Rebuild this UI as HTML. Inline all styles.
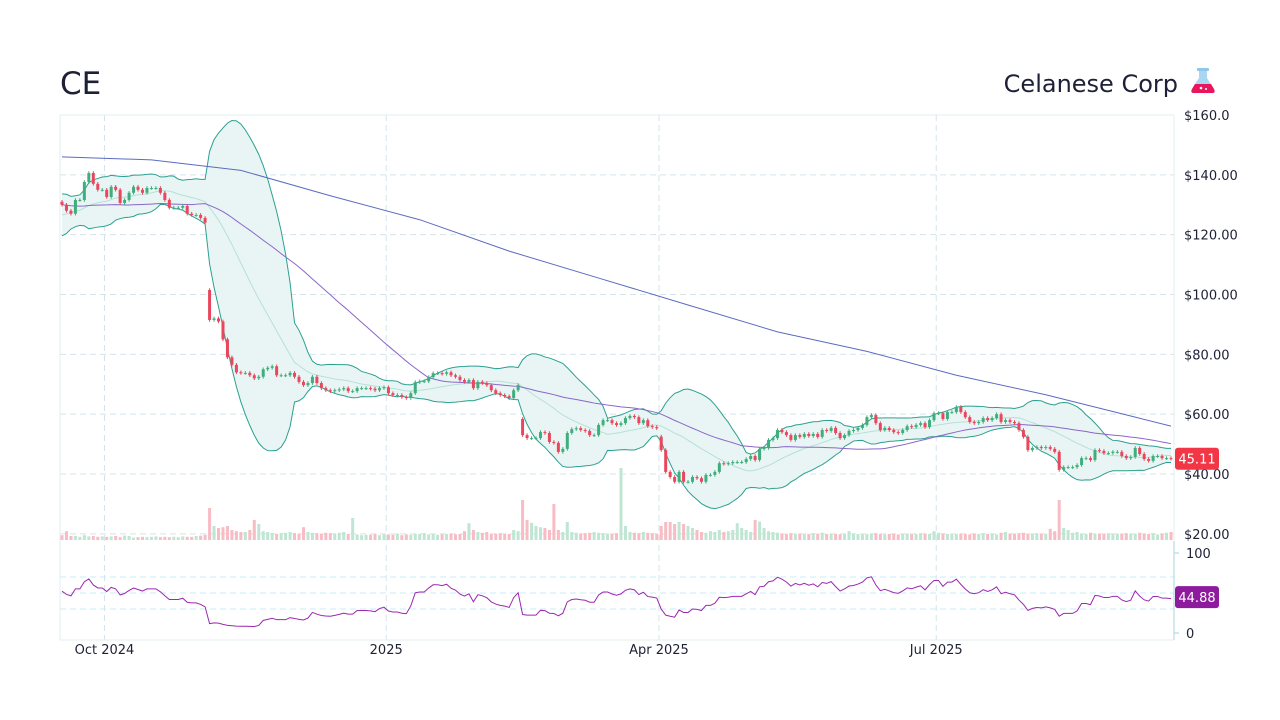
<!DOCTYPE html>
<html><head><meta charset="utf-8"><style>
html,body{margin:0;padding:0;background:#fff;width:1280px;height:720px;overflow:hidden;font-family:"Liberation Sans","DejaVu Sans",sans-serif;}
svg text{font-family:"DejaVu Sans","Liberation Sans",sans-serif;}
</style></head><body>
<svg id="chart" width="1280" height="720" xmlns="http://www.w3.org/2000/svg">
<text x="60" y="94" font-size="31" fill="#1e2036">CE</text>
<text x="1178" y="92" font-size="24" fill="#1e2036" text-anchor="end">Celanese Corp</text>
<g>
<rect x="1197" y="68" width="12" height="3" rx="1" fill="#8fc6ea"/>
<path d="M1199 71 L1199 78 L1192 89 Q1190 93 1194 93 L1212 93 Q1216 93 1214 89 L1207 78 L1207 71 Z" fill="#a9d6f2"/>
<path d="M1195 84 L1211 84 L1214 89 Q1216 93 1212 93 L1194 93 Q1190 93 1192 89 Z" fill="#e8175d"/>
<circle cx="1201" cy="88" r="1.3" fill="#fff"/><circle cx="1206" cy="89" r="1" fill="#fff"/>
</g>
<g id="grid"></g>
<g id="bands"></g>
<g id="vol"></g>
<g id="lines"></g>
<g id="candles"></g>
<g id="rsi"></g>
<g id="axes"></g>
</svg>
<script>
const history = [138,137,136,135,134,135,133,132,134,133,131,132,133,134,135,134,133,132,131,133,132,131,130,132,134,133,132,131,129,128,
120,121,119,122,124,123,126,125,127,129,128,126,124,127,129,131,130,128,132,131];
const closes = [130,128,127,131.6,131.6,137.6,140.6,137,135,135,132.6,136,135,130.6,131.6,134,136,135,134,135.6,135.6,135.6,134,131.6,129,129,129,129.6,127,126.6,126.6,125.6,124,
91.5,92,91,85,79,76.5,74,73.8,73.8,73,72,72.5,75,75.5,76,73,73,73,73.8,72.5,70.8,69.7,70.4,72.5,70.4,68.7,68,67.7,68,68.3,68.7,67.7,67.7,68.7,68.7,68.7,68.5,68,68.7,69,67,66.4,66.4,65.7,65.4,67,70.7,71,71,72.4,73.7,73.7,73.5,74,73,
72.5,71.4,70.8,71.4,68.7,70.8,70.4,69.7,68,67,66.4,66,65.4,68,69.7,53,52,52,52,54,53.7,50.7,50.4,47.4,48.4,53.7,55,55.3,54.7,54.4,53,53,56.4,58,58,57,56.4,57,58.7,59.4,59,57,58,56,55.7,55.3,
48,40.7,39,37.4,40.7,37.4,37.4,39,38.6,37.4,39.7,39.7,40.7,43.6,43.4,43.6,44,44,44,45,
46,44.7,48.4,48.7,51.4,52,54.7,54,53,51.4,53,52.4,53.4,52.7,53.4,52.4,54.7,54.4,55.4,53.7,52,53,54.4,54.7,55.4,56.4,59,59.7,57,54.7,55.4,54.7,54,53.7,54.7,56,55.7,56.4,57,55.7,58,60.3,60.3,58.4,60.7,60.7,62.4,60.7,59,57.4,57,57.4,58.7,58,58.7,60,57.4,58,57.4,57,54.7,52.4,48,48.7,49,
48.7,49,48.4,47.4,41.4,42.3,42.3,42.3,43,45.3,45.3,44.7,48,47.7,47,47,47.4,47.4,46,45.3,45.7,48.7,46.7,45,44.4,46,46,45.3,45.3,45.11];
const gapIdx = [33,103,134];
const gapOpen = [101.5,58.4,52.5];
const volumes = [1.2,2.2,1,1,0.8,1.2,0.9,1,0.8,0.9,0.8,0.9,1,0.7,1.1,1,0.6,0.7,0.8,0.7,0.8,0.9,0.7,0.8,0.7,0.8,0.7,0.9,0.8,0.8,1,1.1,1.3,
8,3.5,3,3.2,3.5,2.5,2.2,2,2,2.5,5,4,2.2,2,1.8,1.5,1.7,1.8,2,1.7,1.6,3.2,2,1.8,1.7,1.5,1.8,1.7,1.5,1.8,2,1.5,5.5,1.4,1.2,1.3,1.3,
1.5,1.2,1.4,1.4,1.3,1.6,1.2,1.4,1.3,1.5,1.5,1.7,1.4,1.5,1.3,1.4,1.5,1.6,1.4,1.5,2.2,4.2,2.5,2,1.8,2,1.5,1.6,1.7,1.5,
1.5,2.5,2.2,10,5,4.3,3.5,3.2,3,2.5,9,2.5,2,4.5,2,1.8,1.6,1.7,1.8,2,1.8,1.7,1.6,1.5,1.7,18,3.5,2,1.8,1.7,
2,1.8,1.7,1.6,3.5,4.5,4.5,4,4.5,4,3.5,3,2.5,2,1.8,2.2,2,2.5,2,2.2,2.5,4.2,3,2.5,2,5,4.6,3,2.2,2,
1.8,1.6,1.5,1.7,1.5,1.6,1.4,1.5,1.7,1.6,1.8,1.5,1.6,1.5,1.4,1.5,2.2,1.6,1.5,1.4,1.5,1.6,1.7,1.5,1.4,1.5,1.6,1.4,1.5,1.6,
1.4,1.5,1.7,1.6,1.5,2.2,1.8,1.6,1.5,1.4,1.5,1.6,1.5,1.4,1.6,1.5,1.7,1.5,1.6,1.4,1.8,2,1.6,1.5,1.7,1.8,1.6,1.5,1.7,1.6,
1.5,2.8,2.2,10,3,2.5,1.8,2,1.6,1.5,1.8,1.5,1.6,1.5,1.7,1.5,1.6,1.5,1.7,1.6,1.5,1.8,1.6,1.5,1.7,1.4,1.6,1.8,2];
const ma200Idx = [0,20,40,60,80,100,120,140,160,180,200,220,240,248];
const ma200Val = [146,145,141.5,133,125,114.5,105.5,96.5,87.5,81,73,66.5,59,56];
const priceTicks = [160,140,120,100,80,60,40,20];
const rsiTicks = [100,0];
const rsiGuides = [70,50,30];
const dateLabels = ["Oct 2024","2025","Apr 2025","Jul 2025"];
const dateIdx = [9.5,72.5,133.5,195.5];

const NS="http://www.w3.org/2000/svg";
const N=closes.length;
const X0=62,X1=1171,PL=60,PR=1174;
const xOf=i=>X0+i*(X1-X0)/(N-1);
const yP=p=>115+(160-p)*(359/120);
const yR=r=>633-r*0.8;
const yV=v=>540-v*4;
function mk(tag,attrs,parent){const e=document.createElementNS(NS,tag);for(const k in attrs)e.setAttribute(k,attrs[k]);parent.appendChild(e);return e;}
const all=history.concat(closes), H=history.length;
function sma(i,n){let s=0;for(let k=i-n+1;k<=i;k++)s+=all[k];return s/n;}
function openOf(i){const g=gapIdx.indexOf(i);if(g>=0)return gapOpen[g];return i?closes[i-1]:history[H-1];}

const grid=document.getElementById('grid');
priceTicks.forEach(t=>{const l=mk('line',{x1:PL,x2:PR,y1:yP(t),y2:yP(t),stroke:'#d5e4ea','stroke-dasharray':'6,4','stroke-width':1},grid);
});
dateIdx.forEach(d=>{const l=mk('line',{x1:xOf(d),x2:xOf(d),y1:115,y2:640,stroke:'#d5e4ea','stroke-dasharray':'6,4'},grid);
});
rsiGuides.forEach(r=>{const l=mk('line',{x1:PL,x2:PR,y1:yR(r),y2:yR(r),stroke:'#c6ecf7','stroke-dasharray':'6,4'},grid);
});

const up=[],lo=[],mid=[];
for(let i=0;i<N;i++){const j=i+H;const m=sma(j,20);let v=0;for(let k=j-19;k<=j;k++)v+=(all[k]-m)**2;const sd=Math.sqrt(v/20);mid.push(m);up.push(m+2*sd);lo.push(m-2*sd);}
const bands=document.getElementById('bands');
let d='M'+up.map((v,i)=>xOf(i)+','+yP(v)).join(' L')+' L'+lo.map((v,i)=>xOf(i)+','+yP(v)).reverse().join(' L')+'Z';
const bf=mk('path',{d:d,fill:'#e9f5f4'},bands);
[[up,'#2aa08f',1,'band-upper'],[lo,'#2aa08f',1,'band-lower'],[mid,'#b5e0d8',1,'band-middle']].forEach(([arr,c,w,n])=>{
const p=mk('polyline',{points:arr.map((v,i)=>xOf(i)+','+yP(v)).join(' '),fill:'none',stroke:c,'stroke-width':w},bands);
});

const vol=document.getElementById('vol');
for(let i=0;i<N;i++){const o=openOf(i);const c=closes[i];
const r=mk('rect',{x:xOf(i)-1.5,y:yV(volumes[i]),width:3,height:volumes[i]*4,fill:c>=o?'#bfe5d3':'#f7bcc4'},vol);
}

const lines=document.getElementById('lines');
const m50=[];for(let i=0;i<N;i++)m50.push(sma(i+H,50));
const p50=mk('polyline',{points:m50.map((v,i)=>xOf(i)+','+yP(v)).join(' '),fill:'none',stroke:'#8a66c9','stroke-width':1},lines);

const p200=mk('polyline',{points:ma200Val.map((v,k)=>xOf(ma200Idx[k])+','+yP(v)).join(' '),fill:'none',stroke:'#5c6bc0','stroke-width':1},lines);


const cg=document.getElementById('candles');
for(let i=0;i<N;i++){const o=openOf(i);const c=closes[i];const col=c>=o?'#3fae7c':'#e8475d';
const x=xOf(i);const hi=Math.max(o,c)+0.6,lw=Math.min(o,c)-0.6;
const w=mk('line',{x1:x,x2:x,y1:yP(hi),y2:yP(lw),stroke:col,'stroke-width':1},cg);

const top=yP(Math.max(o,c));const h=Math.max(1,yP(Math.min(o,c))-top);
const b=mk('rect',{x:x-1.5,y:top,width:3,height:h,fill:col},cg);
}

const rsiG=document.getElementById('rsi');
let ag=0,al=0;for(let k=1;k<=14;k++){const ch=all[k]-all[k-1];ag+=Math.max(ch,0);al+=Math.max(-ch,0);}ag/=14;al/=14;
const rsi=[];
for(let k=15;k<all.length;k++){const ch=all[k]-all[k-1];ag=(ag*13+Math.max(ch,0))/14;al=(al*13+Math.max(-ch,0))/14;
if(k>=H)rsi.push(al===0?100:100-100/(1+ag/al));}
const rl=mk('polyline',{points:rsi.map((v,i)=>xOf(i)+','+yR(v)).join(' '),fill:'none',stroke:'#9c27b0','stroke-width':1},rsiG);


const ax=document.getElementById('axes');
[[PL,115,PR,115],[PL,115,PL,640],[PL,640,PR,640],[PR,115,PR,540]].forEach(a=>{const l=mk('line',{x1:a[0],y1:a[1],x2:a[2],y2:a[3],stroke:'#e3ecef'},ax);
});
const rb=mk('line',{x1:PR,x2:PR,y1:541,y2:640,stroke:'#a9d3dc'},ax);
priceTicks.forEach(t=>{const tx=mk('text',{x:1184,y:yP(t)+5,'font-size':13,fill:'#1e2036'},ax);tx.textContent='$'+(t===160?'160.0':t.toFixed(2));
});
rsiTicks.forEach(t=>{const tk=mk('line',{x1:PR,x2:PR+5,y1:yR(t),y2:yR(t),stroke:'#a9d3dc'},ax);

const tx=mk('text',{x:1186,y:yR(t)+5,'font-size':13,fill:'#1e2036'},ax);tx.textContent=String(t);
});
dateLabels.forEach((s,k)=>{const tx=mk('text',{x:xOf(dateIdx[k]),y:654,'font-size':13,fill:'#1e2036','text-anchor':'middle'},ax);tx.textContent=s;
});
const lp=closes[N-1];
const pb=mk('rect',{x:1175,y:yP(lp)-11,width:44,height:22,rx:3,fill:'#f23645'},ax);
const pt=mk('text',{x:1197,y:yP(lp)+5,'font-size':13,fill:'#fff','text-anchor':'middle'},ax);pt.textContent=lp.toFixed(2);

const ry=yR(44.88);
const rbx=mk('rect',{x:1175,y:ry-11,width:44,height:22,rx:3,fill:'#8e1a9e'},ax);
const rt=mk('text',{x:1197,y:ry+5,'font-size':13,fill:'#fff','text-anchor':'middle'},ax);rt.textContent='44.88';

</script>
</body></html>
